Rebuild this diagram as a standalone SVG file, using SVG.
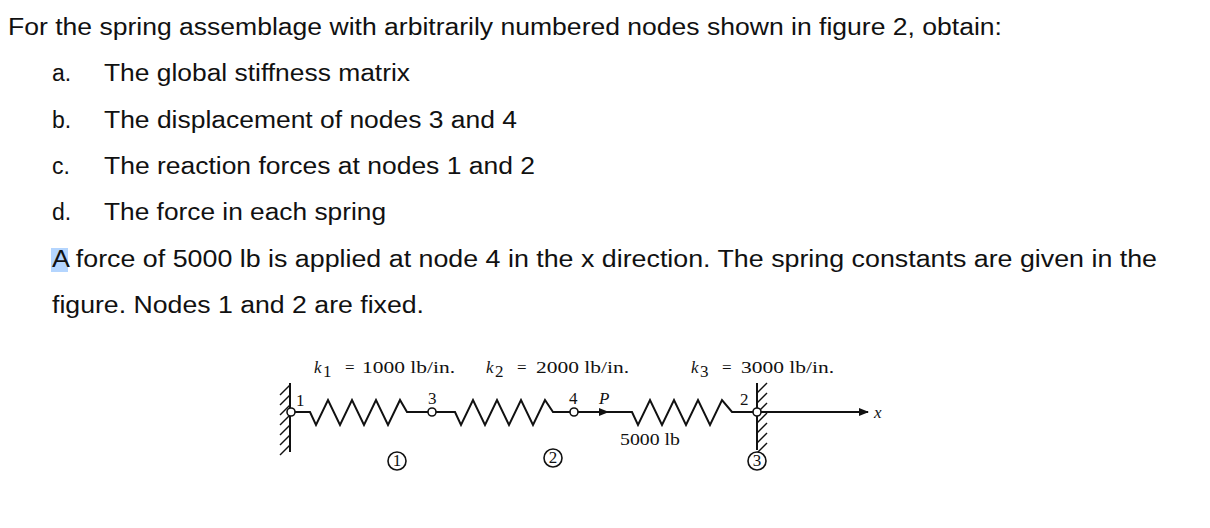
<svg xmlns="http://www.w3.org/2000/svg" width="1210" height="528" viewBox="0 0 1210 528">
<style>
.t{font-family:"Liberation Sans",Arial,sans-serif;font-size:23px;fill:#111}
.f{font-family:"Liberation Serif","Times New Roman",serif;font-size:17px;fill:#111}
.i{font-style:italic}
.l{stroke:#111;stroke-width:2;fill:none}
.n{fill:#fff;stroke:#111;stroke-width:1.6}
.h{stroke:#111;stroke-width:1.5}
</style>
<defs>
<marker id="ah" markerWidth="10" markerHeight="8" refX="9" refY="4" orient="auto" markerUnits="userSpaceOnUse"><path d="M0,0 L10,4 L0,8 Z" fill="#111"/></marker>
</defs>
<rect width="1210" height="528" fill="#fff"/>
<g id="text">
<text class="t" x="8" y="35" textLength="994" lengthAdjust="spacingAndGlyphs">For the spring assemblage with arbitrarily numbered nodes shown in figure 2, obtain:</text>
<text class="t" x="52" y="81">a.</text><text class="t" x="104" y="81" textLength="306" lengthAdjust="spacingAndGlyphs">The global stiffness matrix</text>
<text class="t" x="52" y="128">b.</text><text class="t" x="104" y="128" textLength="413" lengthAdjust="spacingAndGlyphs">The displacement of nodes 3 and 4</text>
<text class="t" x="52" y="174">c.</text><text class="t" x="104" y="174" textLength="431" lengthAdjust="spacingAndGlyphs">The reaction forces at nodes 1 and 2</text>
<text class="t" x="52" y="220">d.</text><text class="t" x="104" y="220" textLength="282" lengthAdjust="spacingAndGlyphs">The force in each spring</text>
<rect x="51" y="248" width="17" height="24" fill="#b4d5fe"/>
<text class="t" x="52" y="267" textLength="1105" lengthAdjust="spacingAndGlyphs">A force of 5000 lb is applied at node 4 in the x direction. The spring constants are given in the</text>
<text class="t" x="52" y="313" textLength="372" lengthAdjust="spacingAndGlyphs">figure. Nodes 1 and 2 are fixed.</text>
</g>
<g id="walls">
<line class="l" x1="290" y1="383" x2="290" y2="452"/>
<g class="h">
<line x1="280" y1="395" x2="290" y2="385"/><line x1="280" y1="405" x2="290" y2="395"/><line x1="280" y1="415" x2="290" y2="405"/><line x1="280" y1="425" x2="290" y2="415"/><line x1="280" y1="435" x2="290" y2="425"/><line x1="280" y1="445" x2="290" y2="435"/><line x1="280" y1="455" x2="290" y2="445"/>
</g>
<line class="l" x1="757" y1="383" x2="757" y2="450"/>
<g class="h">
<line x1="757" y1="393" x2="767" y2="383"/><line x1="757" y1="403" x2="767" y2="393"/><line x1="757" y1="413" x2="767" y2="403"/><line x1="757" y1="423" x2="767" y2="413"/><line x1="757" y1="433" x2="767" y2="423"/><line x1="757" y1="443" x2="767" y2="433"/><line x1="757" y1="453" x2="767" y2="443"/>
</g>
</g>
<g id="connectors">
<polyline class="l" points="291,412 310,412 316,425 328,400 340,425 352,400 364,425 376,400 388,425 400,400 407,412 432,412"/>
<polyline class="l" points="432,412 455,412 461,425 473,400 485,425 497,400 509,425 521,400 533,425 545,400 553,412 574,412"/>
<line class="l" x1="574" y1="412" x2="608" y2="412" marker-end="url(#ah)"/>
<polyline class="l" points="606,412 632,412 638,425 650,400 662,425 674,400 686,425 698,400 710,425 722,400 732,412 757,412"/>
<line class="l" x1="757" y1="412" x2="868" y2="412" marker-end="url(#ah)"/>
</g>
<g id="node1"><circle class="n" cx="291" cy="412" r="4"/><text class="f" x="296" y="406">1</text></g>
<g id="node3"><circle class="n" cx="432" cy="412" r="4"/><text class="f" x="428" y="404">3</text></g>
<g id="node4"><circle class="n" cx="574" cy="412" r="4"/><text class="f" x="569" y="404">4</text><text class="f i" x="599" y="404">P</text><text class="f" x="620" y="445" textLength="60" lengthAdjust="spacingAndGlyphs">5000 lb</text></g>
<g id="node2"><circle class="n" cx="757" cy="412" r="4"/><text class="f" x="740" y="405">2</text></g>
<g id="labels">
<text class="f i" x="314" y="373">k</text><text class="f" x="323" y="377" font-size="11">1</text><text class="f" x="345" y="373">=</text><text class="f" x="362" y="373" textLength="93" lengthAdjust="spacingAndGlyphs">1000 lb/in.</text>
<text class="f i" x="486" y="373">k</text><text class="f" x="495" y="377" font-size="11">2</text><text class="f" x="517" y="373">=</text><text class="f" x="536" y="373" textLength="93" lengthAdjust="spacingAndGlyphs">2000 lb/in.</text>
<text class="f i" x="691" y="373">k</text><text class="f" x="700" y="377" font-size="11">3</text><text class="f" x="722" y="373">=</text><text class="f" x="741" y="373" textLength="93" lengthAdjust="spacingAndGlyphs">3000 lb/in.</text>
<text class="f i" x="874" y="418">x</text>
</g>
<g id="elements">
<circle class="n" cx="397" cy="461" r="9"/><text class="f" x="397" y="466" text-anchor="middle" font-size="13">1</text>
<circle class="n" cx="553" cy="458" r="9"/><text class="f" x="553" y="463" text-anchor="middle" font-size="13">2</text>
<circle class="n" cx="757" cy="461" r="9"/><text class="f" x="757" y="466" text-anchor="middle" font-size="13">3</text>
</g>
</svg>
